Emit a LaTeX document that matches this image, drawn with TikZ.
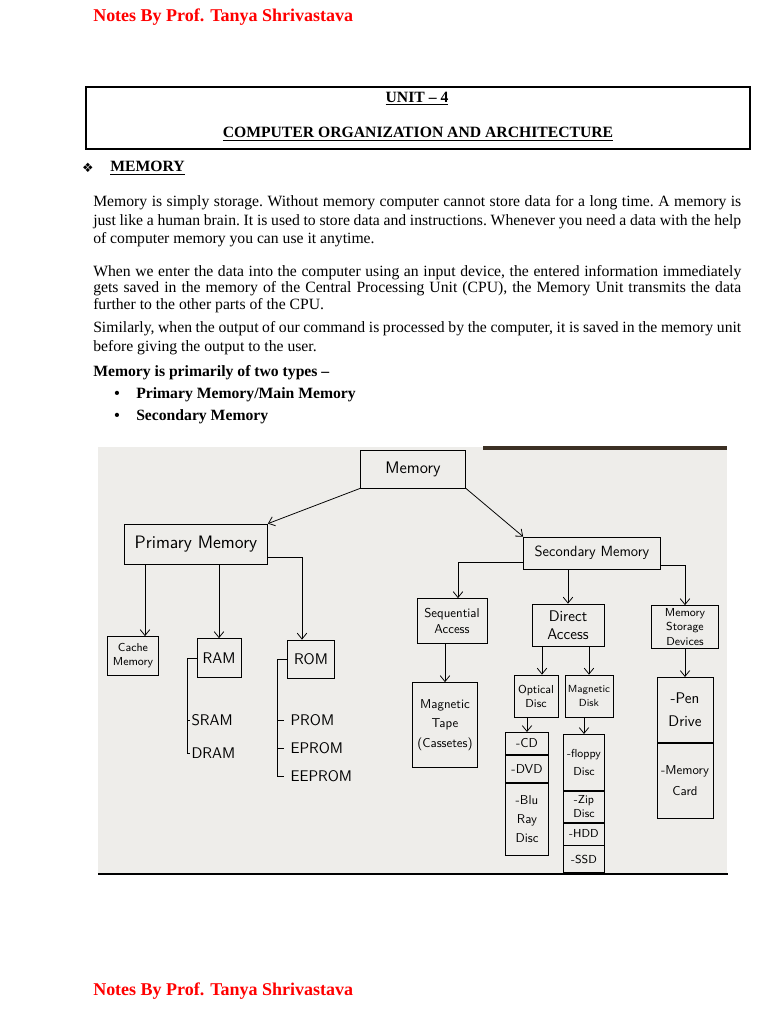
\documentclass[tikz,border=0pt]{standalone}
\usepackage{fontspec}
\setmainfont{Liberation Serif}
\newfontfamily\symfont{DejaVu Sans}
\usetikzlibrary{arrows.meta, positioning}
\definecolor{notered}{RGB}{255,0,0}
\definecolor{photo}{RGB}{238,237,234}
\definecolor{edge}{RGB}{60,48,36}
\newcommand{\pxu}{0.02734cm}
\newcommand{\hand}{\sffamily}
\newcommand{\bodysize}{\fontsize{12.2}{14.6}\selectfont}

\begin{document}
\begin{tikzpicture}[
  x=\pxu, y=-\pxu,
  font=\bodysize,
  box/.style={draw, line width=0.6pt, inner sep=1pt, align=center, font=\hand\small},
  arrow/.style={-{Straight Barb[length=1.6mm, width=2.6mm]}, line width=0.6pt},
  twig/.style={line width=0.6pt},
  item/.style={anchor=west, inner sep=1pt, font=\hand\large},
  para/.style={anchor=north west, inner sep=0pt, text width=648*\pxu, align=justify, font=\bodysize\frenchspacing},
  bold/.style={font=\bodysize\bfseries},
  header/.style={anchor=west, inner sep=0pt, text=notered, font=\fontsize{14}{16}\selectfont\bfseries}
]
\useasboundingbox[fill=white] (0,0) rectangle (768,1024);

% page header and title
\node[header] (top) at (93,17) {Notes By Prof. Tanya Shrivastava};
\node[draw, line width=0.8pt, minimum width=664*\pxu, minimum height=62*\pxu] (title) at (418,118) {};
\node[bold] (unit) at (417,99) {\underline{UNIT -- 4}};
\node[bold] (coa) at (418,134) {\underline{COMPUTER ORGANIZATION AND ARCHITECTURE}};
\node[font=\symfont\normalsize] (dia) at (88,168) {❖};
\node[bold, anchor=west, inner sep=0pt] (head) at (110,168) {\underline{MEMORY}};

% text
\node[para] (p1) at (93,195) {Memory is simply storage. Without memory computer cannot store data for a long time. A memory is just like a human brain. It is used to store data and instructions. Whenever you need a data with the help of computer memory you can use it anytime.};
\node[para, font=\fontsize{12.2}{12.8}\selectfont\frenchspacing] (p2) at (93,265) {When we enter the data into the computer using an input device, the entered information immediately gets saved in the memory of the Central Processing Unit (CPU), the Memory Unit transmits the data further to the other parts of the CPU.};
\node[para] (p3) at (93,321) {Similarly, when the output of our command is processed by the computer, it is saved in the memory unit before giving the output to the user.};
\node[bold, anchor=west, inner sep=0pt] (types) at (93,373) {Memory is primarily of two types --};
\node[font=\large\bfseries] (b1) at (117,395) {\textbullet};
\node[bold, anchor=west, inner sep=0pt] (t1) at (136,395) {Primary Memory/Main Memory};
\node[font=\large\bfseries] (b2) at (117,417) {\textbullet};
\node[bold, anchor=west, inner sep=0pt] (t2) at (136,417) {Secondary Memory};

% photo of the chart
\fill[photo] (98,447) rectangle (727,873);
\draw[edge, line width=2.6pt] (483,448) -- (727,448);
\draw[line width=1.6pt] (98,874) -- (728,874);

\node[box, minimum width=105*\pxu, minimum height=38*\pxu, font=\hand\fontsize{13}{15}\selectfont] (memory) at (413,469) {Memory};
\node[box, minimum width=143*\pxu, minimum height=40*\pxu, font=\hand\fontsize{14}{16}\selectfont] (primary) at (196,544) {Primary Memory};
\node[box, minimum width=137*\pxu, minimum height=32*\pxu, font=\hand\fontsize{11.5}{13}\selectfont] (secondary) at (592,553) {Secondary Memory};
\draw[arrow] (memory.south west) -- (primary.north east);
\draw[arrow] (memory.south east) -- (secondary.north west);

% primary memory
\node[box, minimum width=51*\pxu, minimum height=39*\pxu] (cache) at (133,656) {Cache\\Memory};
\node[box, minimum width=44*\pxu, minimum height=39*\pxu, font=\hand\large] (ram) at (219,658) {RAM};
\node[box, minimum width=47*\pxu, minimum height=38*\pxu, font=\hand\large] (rom) at (311,659) {ROM};
\draw[arrow] ([xshift=12*\pxu]cache.north |- primary.south) -- ([xshift=12*\pxu]cache.north);
\draw[arrow] (ram.north |- primary.south) -- (ram.north);
\draw[arrow] ([yshift=-13*\pxu]primary.east) -| ([xshift=-9*\pxu]rom.north);

\node[item] (sram) at (190,720) {SRAM};
\node[item] (dram) at (190,753) {DRAM};
\draw[twig] (ram.west) -- ++(-9,0) coordinate (ramstem) |- (dram.west);
\draw[twig] (sram.west -| ramstem) -- (sram.west);

\node[item] (prom) at (289,720) {PROM};
\node[item] (eprom) at (289,748) {EPROM};
\node[item] (eeprom) at (289,776) {EEPROM};
\draw[twig] (rom.west) -- ++(-10,0) coordinate (romstem) -- (romstem |- eeprom.west) -- ++(7,0);
\draw[twig] (prom.west -| romstem) -- ++(7,0);
\draw[twig] (eprom.west -| romstem) -- ++(7,0);

% secondary memory
\node[box, minimum width=70*\pxu, minimum height=45*\pxu, font=\hand\normalsize] (sequential) at (452,621) {Sequential\\[1pt]Access};
\node[box, minimum width=72*\pxu, minimum height=42*\pxu, font=\hand\large] (direct) at (568,625) {Direct\\Access};
\node[box, minimum width=67*\pxu, minimum height=43*\pxu] (devices) at (685,627) {Memory\\Storage\\Devices};
\draw[arrow] ([yshift=-9*\pxu]secondary.west) -| ([xshift=6*\pxu]sequential.north);
\draw[arrow] (direct.north |- secondary.south) -- (direct.north);
\draw[arrow] ([yshift=-12*\pxu]secondary.east) -| (devices.north);

\node[box, minimum width=65*\pxu, minimum height=85*\pxu, font=\hand\normalsize] (tape) at (445,725) {Magnetic\\[3pt]Tape\\[3pt](Cassetes)};
\draw[arrow] (tape.north |- sequential.south) -- (tape.north);

\node[box, minimum width=44*\pxu, minimum height=42*\pxu] (optical) at (536,696) {Optical\\Disc};
\node[box, minimum width=48*\pxu, minimum height=42*\pxu, font=\hand\footnotesize] (magnetic) at (589,696) {Magnetic\\[1pt]Disk};
\draw[arrow] ([xshift=6*\pxu]optical.north |- direct.south) -- ([xshift=6*\pxu]optical.north);
\draw[arrow] (magnetic.north |- direct.south) -- (magnetic.north);

% optical disc list
\node[box, minimum width=43*\pxu, minimum height=22*\pxu, anchor=north, font=\hand\normalsize] (cd) at (527,732) {-CD};
\node[box, minimum width=43*\pxu, minimum height=27*\pxu, anchor=north, font=\hand\normalsize] (dvd) at (cd.south) {-DVD};
\node[box, minimum width=43*\pxu, minimum height=72*\pxu, anchor=north, font=\hand\normalsize] (bluray) at (dvd.south) {-Blu\\[3pt]Ray\\[3pt]Disc};
\draw[arrow] (optical.south -| cd.north) -- (cd.north);

% magnetic disk list
\node[box, minimum width=41*\pxu, minimum height=56*\pxu, anchor=north] (floppy) at (584,734) {-floppy\\[3pt]Disc};
\node[box, minimum width=41*\pxu, minimum height=31*\pxu, anchor=north] (zip) at (floppy.south) {-Zip\\Disc};
\node[box, minimum width=41*\pxu, minimum height=22*\pxu, anchor=north] (hdd) at (zip.south) {-HDD};
\node[box, minimum width=41*\pxu, minimum height=27*\pxu, anchor=north] (ssd) at (hdd.south) {-SSD};
\draw[arrow] (magnetic.south -| floppy.north) -- (floppy.north);

% storage devices list
\node[box, minimum width=56*\pxu, minimum height=65*\pxu, anchor=north, font=\hand\large] (pen) at (685,677) {-Pen\\[4pt]Drive};
\node[box, minimum width=56*\pxu, minimum height=75*\pxu, anchor=north, font=\hand\normalsize] (card) at (pen.south) {-Memory\\[4pt]Card};
\draw[arrow] (devices.south) -- (pen.north);

% page footer
\node[header] (bottom) at (93,991) {Notes By Prof. Tanya Shrivastava};
\end{tikzpicture}
\end{document}
